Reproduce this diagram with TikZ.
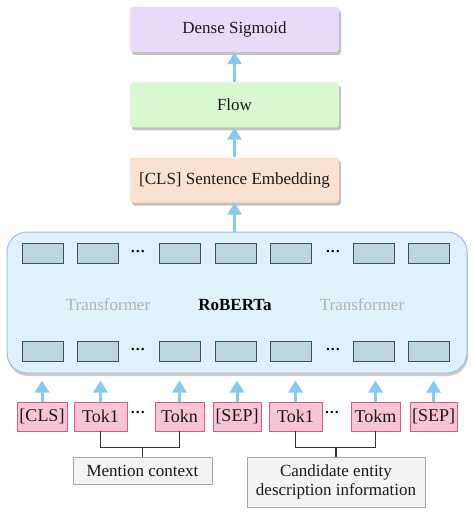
\documentclass[tikz,border=0pt]{standalone}
\usepackage{fontspec}
\setmainfont{Liberation Serif}
\usetikzlibrary{arrows.meta,shadows}
\definecolor{arr}{RGB}{135,202,236}
\definecolor{densefill}{HTML}{E8DAF8}
\definecolor{flowfill}{HTML}{D8F8D0}
\definecolor{clsfill}{HTML}{FBE2D0}
\definecolor{robfill}{HTML}{DFF2FC}
\definecolor{robborder}{HTML}{9DBDE6}
\definecolor{cellfill}{HTML}{BCD6DF}
\definecolor{cellborder}{HTML}{3C5060}
\definecolor{tokfill}{HTML}{F8C4D6}
\definecolor{tokborder}{HTML}{D9588A}
\definecolor{infofill}{HTML}{F3F4F4}
\newcommand{\fs}{\fontsize{17}{19.5}\selectfont}
\newcommand{\fst}{\fontsize{18}{20}\selectfont}
\tikzset{
  topbox/.style={rounded corners=3pt, minimum width=209pt, minimum height=45pt, inner sep=0pt,
    drop shadow={shadow xshift=2pt, shadow yshift=-3pt, fill=black!40, opacity=0.6}, font=\fs, text=black!90},
  flowarrow/.style={draw=arr, line width=3pt, -{Triangle[width=14pt,length=12pt]}},
  cell/.style={draw=cellborder, fill=cellfill, line width=1pt, minimum width=41pt, minimum height=20pt, inner sep=0pt},
  dotsnode/.style={font=\fontsize{15}{16}\selectfont\bfseries, inner sep=0pt, text=black},
  tok/.style={draw=tokborder, fill=tokfill, line width=0.8pt, minimum height=29pt, inner sep=0pt, font=\fst, text=black!90},
  infobox/.style={draw=gray!70, fill=infofill, line width=1pt, inner sep=0pt, align=center, font=\fs, text=black!90},
  bracket/.style={draw=black!80, line width=1.3pt},
  tflabel/.style={font=\fs, text=gray!60},
}
\begin{document}
\begin{tikzpicture}[x=1pt,y=-1pt]
\useasboundingbox (0,0) rectangle (474,513);
% top stack
\node[topbox, fill=densefill] (dense) at (234.5,29.5) {Dense Sigmoid};
\node[topbox, fill=flowfill] (flow) at (234.5,105) {Flow};
\node[topbox, fill=clsfill] (clsemb) at (234.5,180) {[CLS] Sentence Embedding};
% RoBERTa block
\node[draw=robborder, fill=robfill, rounded corners=20pt, minimum width=460pt, minimum height=141pt,
  line width=1pt, drop shadow={shadow xshift=1pt, shadow yshift=-3pt, fill=black!40, opacity=0.5}] (rob) at (237,302.5) {};
\node[font=\fs\bfseries] (roblabel) at (235,305) {RoBERTa};
\node[tflabel] (tf1) at (108,305) {Transformer};
\node[tflabel] (tf2) at (362,305) {Transformer};
% cells
\foreach \x [count=\i] in {42.5,98,180,236,291,373.5,429}{
  \node[cell] (t\i) at (\x,253) {};
  \node[cell] (b\i) at (\x,351.5) {};
}
\node[dotsnode] (td1) at (138,253) {···};
\node[dotsnode] (td2) at (333,253) {···};
\node[dotsnode] (bd1) at (138,351) {···};
\node[dotsnode] (bd2) at (333,351) {···};
% tokens
\node[tok, minimum width=50pt] (k1) at (42,416.5) {[CLS]};
\node[tok, minimum width=53pt] (k2) at (100.5,416.5) {Tok1};
\node[dotsnode] (kd1) at (138,414.5) {···};
\node[tok, minimum width=49pt] (k3) at (179.5,416.5) {Tokn};
\node[tok, minimum width=48pt] (k4) at (237,416.5) {[SEP]};
\node[tok, minimum width=53pt] (k5) at (295.5,416.5) {Tok1};
\node[dotsnode] (kd2) at (332,414.5) {···};
\node[tok, minimum width=49pt] (k6) at (375.5,416.5) {Tokm};
\node[tok, minimum width=47pt] (k7) at (433.5,416.5) {[SEP]};
% info boxes
\node[infobox, minimum width=139pt, minimum height=27pt] (mention) at (142.5,470.5) {Mention context};
\node[infobox, minimum width=178pt, minimum height=50pt] (cand) at (336,482) {Candidate entity\\description information};
% arrows
\draw[flowarrow] (flow.north) -- (dense.south);
\draw[flowarrow] (clsemb.north) -- (flow.south);
\draw[flowarrow] (clsemb.south |- rob.north) -- (clsemb.south);
\foreach \i in {1,...,7}{
  \draw[flowarrow, shorten >=7pt] (k\i.north) -- (k\i.north |- rob.south);
}
% brackets
\draw[bracket] (k2.south) -- ++(0,16) -| (k3.south);
\draw[bracket] (mention.north) -- ++(0,-10);
\draw[bracket] (k5.south) -- ++(0,16) -| (k6.south);
\draw[bracket] (cand.north) -- ++(0,-10);
\end{tikzpicture}
\end{document}
